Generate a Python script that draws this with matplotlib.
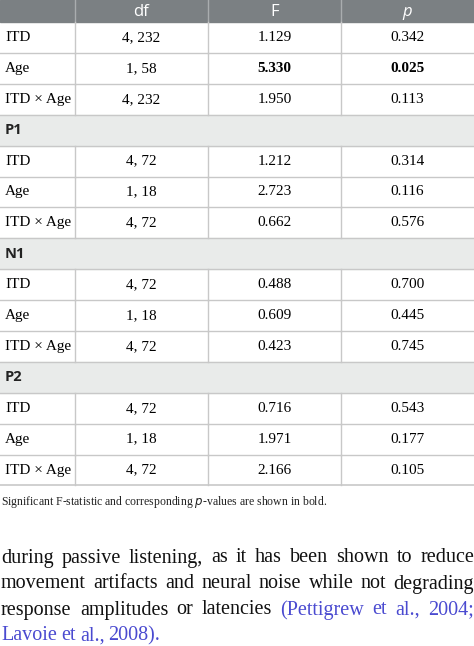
import matplotlib
matplotlib.use("Agg")
import matplotlib.pyplot as plt
from matplotlib.patches import Rectangle

W, H = 474, 646
headers = ["", "df", "F", "p"]
sections = ["", "P1", "N1", "P2"]
effects = ["ITD", "Age", "ITD × Age"]
df_vals = [["4, 232", "1, 58", "4, 232"], ["4, 72", "1, 18", "4, 72"],
           ["4, 72", "1, 18", "4, 72"], ["4, 72", "1, 18", "4, 72"]]
F_vals = [["1.129", "5.330", "1.950"], ["1.212", "2.723", "0.662"],
          ["0.488", "0.609", "0.423"], ["0.716", "1.971", "2.166"]]
p_vals = [["0.342", "0.025", "0.113"], ["0.314", "0.116", "0.576"],
          ["0.700", "0.445", "0.745"], ["0.543", "0.177", "0.105"]]
bold = [[False, True, False], [False]*3, [False]*3, [False]*3]
caption = "Significant F-statistic and corresponding $\\it{p}$-values are shown in bold."
para = [("during passive listening, as it has been shown to reduce", True, None),
        ("movement artifacts and neural noise while not degrading", True, None),
        ("response amplitudes or latencies (Pettigrew et al., 2004;", True, None),
        ("Lavoie et al., 2008).", False, None)]

fig = plt.figure(figsize=(W/100, H/100), dpi=100)
ax = fig.add_axes([0, 0, 1, 1])
ax.set_xlim(0, W); ax.set_ylim(H, 0); ax.axis("off")

cols = [0, 75, 208, 341, 474]
centers = [(cols[i]+cols[i+1])/2 for i in range(4)]
grid = "#c8c8c8"
serif = "Liberation Serif"
sans = "Open Sans"

ax.add_patch(Rectangle((0, 0), W, 22, color="#7b8083", zorder=0))
for i in range(1, 4):
    ax.plot([cols[i]]*2, [0, 22], color="#a9adaf", lw=1)
for i, h in enumerate(headers):
    if h:
        ax.text(centers[i], 12, h, ha="center", va="center", color="white", fontsize=12,
                family=sans, style="italic" if h == "p" else "normal")

rowh = 30.9
y = 22
for s in range(4):
    if sections[s]:
        ax.add_patch(Rectangle((0, y), W, rowh, color="#e9ebea", zorder=0))
        ax.text(5, y + rowh/2, sections[s], ha="left", va="center", fontsize=10.5,
                fontweight="bold", family=sans, color="#222222")
        ax.plot([0, W], [y+rowh]*2, color=grid, lw=1)
        y += rowh
    for r in range(3):
        yc = y + rowh/2
        ax.text(5, yc, effects[r], ha="left", va="center", fontsize=11, family=serif)
        for c, vals in zip([1, 2, 3], [df_vals, F_vals, p_vals]):
            fw = "bold" if (bold[s][r] and c > 1) else "normal"
            ax.text(centers[c], yc, vals[s][r], ha="center", va="center", fontsize=11,
                    family=serif, fontweight=fw)
        for i in range(1, 4):
            ax.plot([cols[i]]*2, [y, y+rowh], color=grid, lw=1)
        ax.plot([0, W], [y+rowh]*2, color=grid, lw=1.2 if (s == 3 and r == 2) else 1)
        y += rowh

ax.text(1, y + 17, caption, ha="left", va="center", fontsize=8.5, family=serif, color="#222222")

fig.canvas.draw()
rend = fig.canvas.get_renderer()
blue = "#4a4ad0"
ly = [558, 584, 610, 636]
for (line, just, _), yy in zip(para, ly):
    words = line.split(" ")
    texts = []
    for w in words:
        texts.append(ax.text(0, yy, w, ha="left", va="center", fontsize=14.5, family=serif, color="#111111"))
    widths = [t.get_window_extent(rend).width for t in texts]
    gap = (W - 1 - sum(widths)) / (len(words) - 1) if just else 4.2
    x = 1
    inblue = False
    for t, w, wd in zip(texts, words, widths):
        t.set_x(x)
        x += wd + gap
    # color citations
for t in ax.texts:
    s = t.get_text()
    if s in ("(Pettigrew", "et", "al.,", "2004;", "Lavoie", "2008)."):
        if t.get_position()[1] in (610, 636):
            if s == "et" and t.get_position()[1] == 610 and t.get_position()[0] < 300:
                continue
            t.set_color(blue)
fig.savefig("out.png", dpi=100)
